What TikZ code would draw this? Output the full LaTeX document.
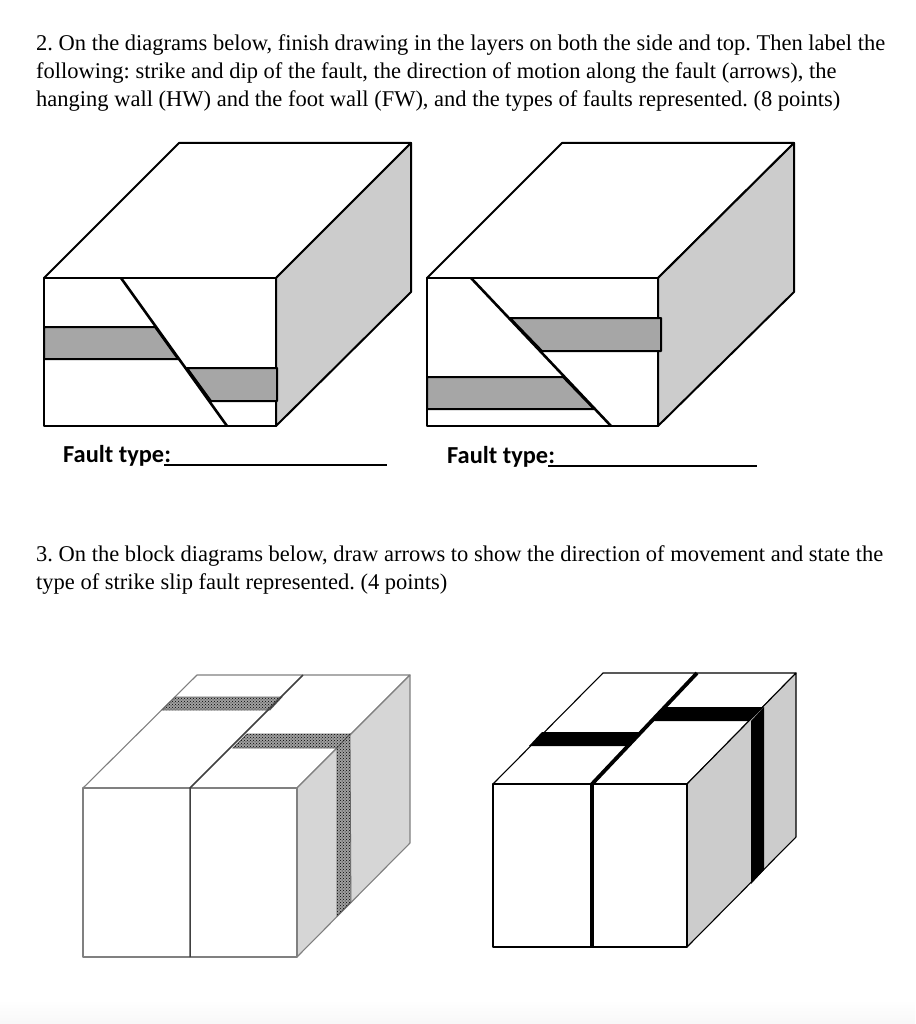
\documentclass[tikz,border=0pt]{standalone}
\usepackage{fontspec}
\setmainfont{Liberation Serif}
\newfontfamily\labelfont{Carlito}
\usetikzlibrary{patterns}
\definecolor{sidegray}{HTML}{CCCCCC}
\definecolor{sidelight}{HTML}{D6D6D6}
\definecolor{bandgray}{HTML}{A6A6A6}
\definecolor{softline}{HTML}{808080}
\definecolor{stipplegray}{HTML}{A0A0A0}
\tikzstyle{question} = [anchor=base west,inner sep=0pt,font=\frenchspacing\fontsize{22.5}{26}\selectfont]
\tikzstyle{faulttype} = [anchor=base west,inner sep=0pt,font=\labelfont\bfseries\fontsize{24.4}{28}\selectfont]
\tikzstyle{blank} = [draw=black,line width=2pt,line join=round,fill=white]
\tikzstyle{side} = [draw=black,line width=2pt,line join=round,fill=sidegray]
\tikzstyle{band} = [draw=black,line width=2pt,line join=round,fill=bandgray]
\tikzstyle{fault} = [line width=2.6pt,draw=black]
\tikzstyle{rule} = [line width=2pt,draw=black]
\tikzstyle{softblank} = [draw=softline,line width=1.1pt,line join=round,fill=white]
\tikzstyle{softside} = [draw=softline,line width=1.1pt,line join=round,fill=sidelight]
\tikzstyle{softfault} = [draw=black!75,line width=1.5pt]
\tikzstyle{stipplebase} = [fill=stipplegray,draw=black!60,line width=0.8pt]
\tikzstyle{stipple} = [pattern=crosshatch dots,pattern color=black]
\tikzstyle{thinblank} = [draw=black,line width=1.1pt,line join=round,fill=white]
\tikzstyle{thinside} = [draw=black,line width=1.1pt,line join=round,fill=sidegray]
\tikzstyle{solidband} = [fill=black]

\begin{document}
\begin{tikzpicture}[x=1pt,y=-1pt]
\useasboundingbox (0,0) rectangle (915,1024);
\fill [top color=white,bottom color=black!3] (0,1000) rectangle (915,1024);

\node (q2a) [question] at (36,51) {2. On the diagrams below, finish drawing in the layers on both the side and top. Then label the};
\node (q2b) [question] at (36,79) {following: strike and dip of the fault, the direction of motion along the fault (arrows), the};
\node (q2c) [question] at (36,107) {hanging wall (HW) and the foot wall (FW), and the types of faults represented. (8 points)};

\draw [blank] (44,278) -- (179,143) -- (411,143) -- (276,278) -- cycle;
\draw [side] (276,278) -- (411,143) -- (411,292) -- (276,426) -- cycle;
\draw [blank] (44,278) rectangle (276,426);
\draw [band] (44,327) -- (155,327) -- (178,359) -- (44,359) -- cycle;
\draw [band] (187,368) -- (277,368) -- (277,401) -- (211,401) -- cycle;
\coordinate (faultAtop) at (121,278);
\coordinate (faultAbot) at (227,426);
\draw [fault] (faultAtop) -- (faultAbot);
\node (typeA) [faulttype] at (63,462) {Fault type:};
\coordinate (ruleAend) at (387,465);
\draw [rule] (typeA.base east |- ruleAend) ++(-7,0) -- (ruleAend);

\draw [blank] (427,278) -- (562,143) -- (794,143) -- (658,278) -- cycle;
\draw [side] (658,278) -- (794,143) -- (794,292) -- (658,426) -- cycle;
\draw [blank] (427,278) rectangle (658,426);
\draw [band] (510,318) -- (661,318) -- (661,351) -- (542,351) -- cycle;
\draw [band] (427,377) -- (563,377) -- (594,409) -- (427,409) -- cycle;
\coordinate (faultBtop) at (471,278);
\coordinate (faultBbot) at (611,426);
\draw [fault] (faultBtop) -- (faultBbot);
\node (typeB) [faulttype] at (447,463) {Fault type:};
\coordinate (ruleBend) at (757,466);
\draw [rule] (typeB.base east |- ruleBend) ++(-7,0) -- (ruleBend);

\node (q3a) [question] at (36,561) {3. On the block diagrams below, draw arrows to show the direction of movement and state the};
\node (q3b) [question] at (36,589) {type of strike slip fault represented. (4 points)};

\draw [softblank] (83,788) -- (197,675) -- (410,675) -- (297,788) -- cycle;
\draw [softside] (297,788) -- (410,675) -- (410,843) -- (297,957) -- cycle;
\draw [softblank] (83,788) rectangle (297,957);
\draw [stipplebase] (175,697) -- (282,697) -- (270,710) -- (162,710) -- cycle;
\draw [stipplebase] (247,734) -- (350,734) -- (337,748) -- (233,748) -- cycle;
\draw [stipplebase] (337,748) -- (350,734) -- (351,902) -- (337,916) -- cycle;
\fill [stipple] (175,697) -- (282,697) -- (270,710) -- (162,710) -- cycle;
\fill [stipple] (247,734) -- (350,734) -- (337,748) -- (233,748) -- cycle;
\fill [stipple] (337,748) -- (350,734) -- (351,902) -- (337,916) -- cycle;
\coordinate (faultCback) at (303,675);
\coordinate (faultCtop) at (190,788);
\coordinate (faultCbot) at (190,957);
\draw [softfault] (faultCback) -- (faultCtop) -- (faultCbot);

\draw [thinblank] (493,784) -- (603,673) -- (796,673) -- (687,784) -- cycle;
\draw [thinside] (687,784) -- (796,673) -- (796,837) -- (687,947) -- cycle;
\draw [thinblank] (493,784) rectangle (687,947);
\fill [solidband] (542,732) -- (640,732) -- (627,746) -- (529,746) -- cycle;
\fill [solidband] (665,707) -- (764,707) -- (749,721) -- (653,721) -- cycle;
\fill [solidband] (764,707) -- (764,870) -- (751,884) -- (751,721) -- cycle;
\coordinate (faultDback) at (697,673);
\coordinate (faultDtop) at (592,784);
\coordinate (faultDbot) at (592,947);
\draw [line width=3.8pt] (faultDback) -- (faultDtop) -- (faultDbot);

\end{tikzpicture}
\end{document}
